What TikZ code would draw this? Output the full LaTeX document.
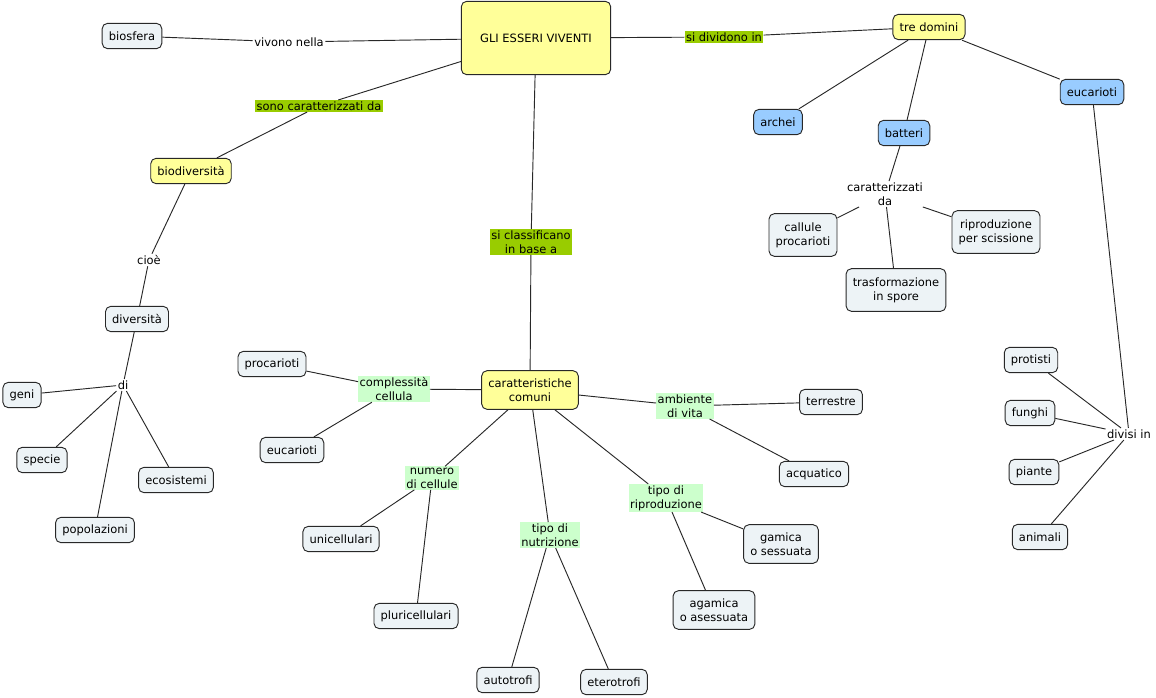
\documentclass[tikz,border=0pt]{standalone}
\usepackage{fontspec}
\setmainfont{DejaVu Sans}
\usetikzlibrary{positioning}
\definecolor{YellowFill}{RGB}{255,255,153}
\definecolor{BlueFill}{RGB}{153,204,255}
\definecolor{GrayFill}{RGB}{237,243,246}
\definecolor{DarkGreen}{RGB}{153,204,0}
\definecolor{LightGreen}{RGB}{204,255,204}
\definecolor{LineColor}{RGB}{40,40,40}
\tikzset{
  concept/.style = {rectangle, rounded corners=4pt, draw=LineColor, line width=0.7pt, align=center, inner xsep=5pt, inner ysep=3pt, minimum height=19pt, font=\fontsize{8.6}{10.4}\selectfont},
  yellowbox/.style = {concept, fill=YellowFill},
  bluebox/.style = {concept, fill=BlueFill},
  graybox/.style = {concept, fill=GrayFill},
  twoline/.style = {minimum height=32pt},
  twolow/.style = {minimum height=29pt},
  linkplain/.style = {align=center, inner sep=1pt, fill=white, font=\fontsize{8.6}{10.4}\selectfont},
  linkdark/.style = {linkplain, fill=DarkGreen},
  linklight/.style = {linkplain, fill=LightGreen},
  conn/.style = {draw=LineColor, line width=0.7pt}
}
\begin{document}
\begin{tikzpicture}[x=0.75pt, y=-0.75pt]
      \useasboundingbox (0,0) rectangle (1156,697);

      % Central concept
      \node[yellowbox, minimum width=112pt, minimum height=55pt] (esseri) at (536,38) {GLI ESSERI VIVENTI};

      % Top left
      \node[graybox] (biosfera) at (132,36) {biosfera};
      \node[linkplain] (vivono) at (289,42) {vivono nella};
      \node[linkdark] (sonocar) at (319,106) {sono caratterizzati da};
      \node[yellowbox] (biodiv) at (191,171) {biodiversità};

      % Biodiversity branch
      \node[linkplain] (cioe) at (149,260) {cioè};
      \node[graybox] (diversita) at (137,319) {diversità};
      \node[linkplain] (di) at (123,385) {di};
      \node[graybox] (geni) at (22,395) {geni};
      \node[graybox] (specie) at (42,460) {specie};
      \node[graybox] (ecosist) at (176,480) {ecosistemi};
      \node[graybox] (popol) at (95,530) {popolazioni};

      % Three domains
      \node[linkdark] (sidiv) at (724,37) {si dividono in};
      \node[yellowbox] (domini) at (929,27) {tre domini};
      \node[bluebox] (archei) at (778,122) {archei};
      \node[bluebox] (batteri) at (904,133) {batteri};
      \node[bluebox] (eucarB) at (1092,92) {eucarioti};

      % Bacteria
      \node[linkplain] (cardabat) at (885,194) {caratterizzati\\da};
      \node[graybox, twoline] (callule) at (803,235) {callule\\procarioti};
      \node[graybox, twoline] (scissione) at (996,232) {riproduzione\\per scissione};
      \node[graybox, twoline] (spore) at (896,290) {trasformazione\\in spore};

      % Eukaryotes
      \node[linkplain] (divisi) at (1129,434) {divisi in};
      \node[graybox] (protisti) at (1031,360) {protisti};
      \node[graybox] (funghi) at (1030,413) {funghi};
      \node[graybox] (piante) at (1034,472) {piante};
      \node[graybox] (animali) at (1040,537) {animali};

      % Common characteristics
      \node[linkdark] (sicla) at (531,242) {si classificano\\in base a};
      \node[yellowbox, twolow] (caratt) at (530,390) {caratteristiche\\comuni};

      \node[linklight] (compl) at (394,389) {complessità\\cellula};
      \node[graybox] (procar) at (272,364) {procarioti};
      \node[graybox] (eucarC) at (292,450) {eucarioti};

      \node[linklight] (numero) at (432,478) {numero\\di cellule};
      \node[graybox] (unicel) at (341,539) {unicellulari};
      \node[graybox] (pluricel) at (416,616) {pluricellulari};

      \node[linklight] (nutriz) at (550,535) {tipo di\\nutrizione};
      \node[graybox] (autotrofi) at (508,680) {autotrofi};
      \node[graybox] (eterotrofi) at (614,682) {eterotrofi};

      \node[linklight] (riprod) at (666,498) {tipo di\\riproduzione};
      \node[graybox, twolow] (agamica) at (714,610) {agamica\\o asessuata};
      \node[graybox, twolow] (gamica) at (781,544) {gamica\\o sessuata};

      \node[linklight] (ambiente) at (685,406) {ambiente\\di vita};
      \node[graybox] (terrestre) at (831,402) {terrestre};
      \node[graybox] (acquatico) at (814,474) {acquatico};

      % Connections
      \draw[conn] (biosfera) -- (vivono) -- (esseri);
      \draw[conn] (esseri) -- (sonocar) -- (biodiv);
      \draw[conn] (esseri) -- (sidiv) -- (domini);
      \draw[conn] (esseri) -- (sicla) -- (caratt);

      \draw[conn] (domini) -- (archei);
      \draw[conn] (domini) -- (batteri);
      \draw[conn] (domini) -- (eucarB);

      \draw[conn] (batteri) -- (cardabat);
      \draw[conn] (cardabat) -- (callule);
      \draw[conn] (cardabat) -- (scissione);
      \draw[conn] (cardabat) -- (spore);

      \draw[conn] (eucarB) -- (divisi);
      \foreach \k in {protisti, funghi, piante, animali}
        \draw[conn] (divisi) -- (\k);

      \draw[conn] (biodiv) -- (cioe) -- (diversita) -- (di);
      \foreach \k in {geni, specie, ecosist, popol}
        \draw[conn] (di) -- (\k);

      \draw[conn] (caratt) -- (compl);
      \draw[conn] (compl) -- (procar);
      \draw[conn] (compl) -- (eucarC);
      \draw[conn] (caratt) -- (numero);
      \draw[conn] (numero) -- (unicel);
      \draw[conn] (numero) -- (pluricel);
      \draw[conn] (caratt) -- (nutriz);
      \draw[conn] (nutriz) -- (autotrofi);
      \draw[conn] (nutriz) -- (eterotrofi);
      \draw[conn] (caratt) -- (riprod);
      \draw[conn] (riprod) -- (agamica);
      \draw[conn] (riprod) -- (gamica);
      \draw[conn] (caratt) -- (ambiente);
      \draw[conn] (ambiente) -- (terrestre);
      \draw[conn] (ambiente) -- (acquatico);
\end{tikzpicture}
\end{document}
